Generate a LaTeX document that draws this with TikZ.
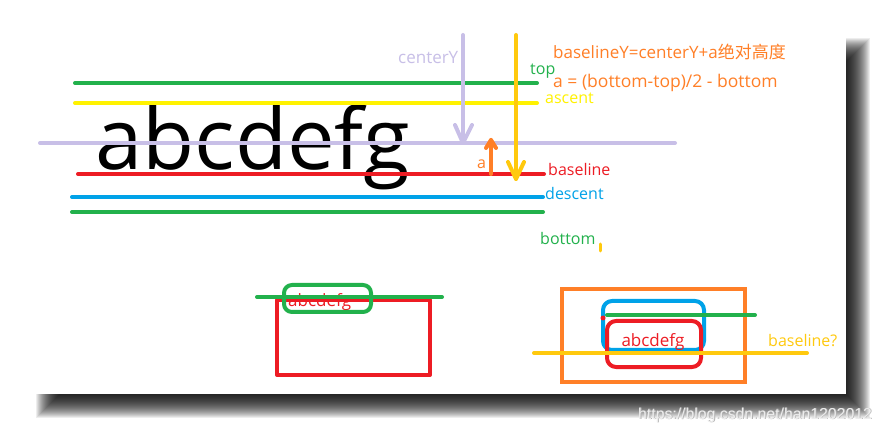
\documentclass[tikz,border=0pt]{standalone}
\usepackage{fontspec}
\setmainfont{Open Sans}
\newfontfamily\cjk{Noto Sans CJK SC}
\newfontfamily\wm{Liberation Sans}
\definecolor{pgreen}{HTML}{22B14C}
\definecolor{pyellow}{HTML}{FFF200}
\definecolor{pred}{HTML}{ED1C24}
\definecolor{pblue}{HTML}{00A2E8}
\definecolor{porange}{HTML}{FF7F27}
\definecolor{plav}{HTML}{C8BFE7}
\definecolor{pgold}{HTML}{FFC90E}
\begin{document}
\begin{tikzpicture}[x=1pt,y=-1pt,line cap=round,line join=round,
  stroke/.style={line width=4pt},
  lbl/.style={anchor=base west,inner sep=0pt,font=\fontsize{16}{16}\selectfont},
  small/.style={inner sep=0pt,font=\fontsize{17}{17}\selectfont,text=pred}]
\useasboundingbox (0,0) rectangle (881,430);
\fill[white] (0,0) rectangle (881,430);
% soft shadow
\foreach \e in {-12,...,14} \fill[black,opacity=0.07] (50-\e,52-\e) rectangle (856+\e,404+\e);
\fill[white] (35,35) rectangle (846,394);
% watermark
\node[anchor=base west,inner sep=0pt,font=\wm\fontsize{15.8}{16}\selectfont,text=gray!60] (wm2) at (638.8,419.8) {https://blog.csdn.net/han1202012};
\node[anchor=base west,inner sep=0pt,font=\wm\fontsize{15.8}{16}\selectfont,text=white!93!black] (wm) at (638,419) {https://blog.csdn.net/han1202012};

% big text
\node[anchor=base west,inner sep=0pt,font=\fontsize{85}{85}\selectfont] (big) at (95,170) {abcdefg};

% coordinates of the metric lines
\coordinate (topA) at (75,83);   \coordinate (topB) at (537,83);
\coordinate (ascA) at (75,103);  \coordinate (ascB) at (537,103);
\coordinate (cenA) at (40,143);  \coordinate (cenB) at (675,143);
\coordinate (basA) at (78,174);  \coordinate (basB) at (544,174);
\coordinate (desA) at (72,197);  \coordinate (desB) at (543,197);
\coordinate (botA) at (72,212);  \coordinate (botB) at (543,212);

\draw[stroke,pgreen] (topA) -- (topB);
\draw[stroke,pyellow] (ascA) -- (ascB);
\draw[stroke,plav] (cenA) -- (cenB);
\draw[stroke,pred] (basA) -- (basB);
\draw[stroke,pblue] (desA) -- (desB);
\draw[stroke,pgreen] (botA) -- (botB);

% vertical arrows
\coordinate (lavTop) at (463,35); \coordinate (lavEnd) at (463,143);
\draw[stroke,plav] (lavTop) -- (lavEnd);
\draw[stroke,plav] (455,125) -- (lavEnd) -- (472,125);
\coordinate (goldTop) at (516,35); \coordinate (goldEnd) at (516,179);
\draw[stroke,pgold] (goldTop) -- (goldEnd);
\draw[stroke,pgold] (508,162) -- (goldEnd) -- (524,162);
\coordinate (aBot) at (491,174); \coordinate (aTop) at (491,140);
\draw[stroke,porange] (aBot) -- (aTop);
\draw[stroke,porange] (486,148) -- (aTop) -- (496,148);
\draw[stroke,pgold,line width=3pt] (600,244) -- (600,251);

% labels
\node[lbl,text=plav,font=\fontsize{17}{17}\selectfont] (cy) at (398,64) {centerY};
\node[lbl,text=porange,font=\fontsize{17}{17}\selectfont] (f1) at (553,59) {baselineY=centerY+a{\cjk 绝对高度}};
\node[lbl,text=porange,font=\fontsize{17.5}{17.5}\selectfont] (f2) at (553,88) {a = (bottom-top)/2 - bottom};
\node[lbl,text=pgreen] (ltop) at (530,75) {top};
\node[lbl,text=pyellow] (lasc) at (545,104) {ascent};
\node[lbl,text=porange] (la) at (477,169) {a};
\node[lbl,text=pred] (lbas) at (548,176) {baseline};
\node[lbl,text=pblue] (ldes) at (545,200) {descent};
\node[lbl,text=pgreen] (lbot) at (540,245) {bottom};

% left small figure
\draw[stroke,pred] (277,300) rectangle (430,375);
\node[small,anchor=base west] (t1) at (288,307) {abcdefg};
\coordinate (g1A) at (257,297); \coordinate (g1B) at (442,297);
\draw[stroke,pgreen] (g1A) -- (g1B);
\draw[stroke,pgreen,rounded corners=8pt] (284,285) rectangle (371,312);

% right small figure
\draw[stroke,porange,line join=miter] (562,289) rectangle (745,382);
\draw[stroke,pblue,rounded corners=9pt] (603,301) rectangle (704,350);
\coordinate (g2A) at (607,315); \coordinate (g2B) at (755,315);
\draw[stroke,pgreen] (g2A) -- (g2B);
\draw[stroke,pred,rounded corners=9pt] (607,321) rectangle (701,367);
\fill[pred] (603,318) circle (2.5);
\node[small,anchor=base] (t2) at (653,347) {abcdefg};
\coordinate (y2A) at (534,353); \coordinate (y2B) at (807,353);
\draw[stroke,pgold] (y2A) -- (y2B);
\node[lbl,text=pgold] (lq) at (768,346) {baseline?};
\end{tikzpicture}
\end{document}
